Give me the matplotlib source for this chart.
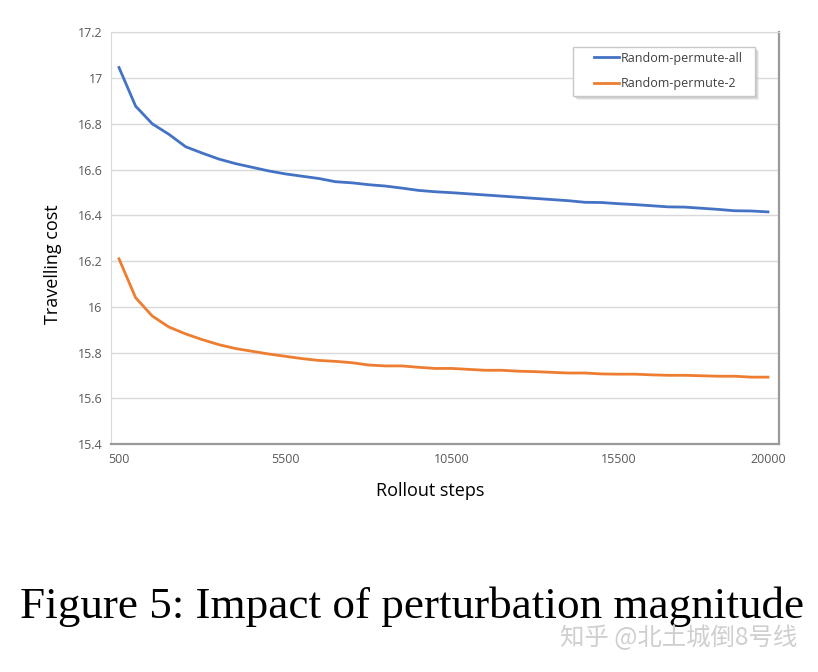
import matplotlib.pyplot as plt
from matplotlib.patches import Rectangle
import numpy as np

# Rollout steps (every 500) and travelling cost
steps = np.arange(500, 20001, 500)
permute_all = [17.046, 16.877, 16.800, 16.754, 16.700, 16.672, 16.646, 16.626, 16.610, 16.594,
               16.581, 16.571, 16.561, 16.547, 16.542, 16.534, 16.528, 16.519, 16.509, 16.503,
               16.499, 16.494, 16.489, 16.484, 16.479, 16.474, 16.469, 16.464, 16.457, 16.456,
               16.451, 16.447, 16.442, 16.437, 16.436, 16.431, 16.426, 16.420, 16.419, 16.415]
permute_2 = [16.210, 16.040, 15.960, 15.912, 15.882, 15.857, 15.835, 15.818, 15.806, 15.794,
             15.784, 15.774, 15.766, 15.762, 15.756, 15.746, 15.742, 15.742, 15.736, 15.731,
             15.731, 15.727, 15.723, 15.723, 15.719, 15.717, 15.714, 15.711, 15.711, 15.707,
             15.706, 15.706, 15.703, 15.701, 15.701, 15.699, 15.697, 15.697, 15.693, 15.693]
xticks = [500, 5500, 10500, 15500, 20000]
yticks = [15.4, 15.6, 15.8, 16.0, 16.2, 16.4, 16.6, 16.8, 17.0, 17.2]
ylabels = ['15.4', '15.6', '15.8', '16', '16.2', '16.4', '16.6', '16.8', '17', '17.2']

fig = plt.figure(figsize=(8.18, 6.72), dpi=100)
ax = fig.add_axes([0.1357, 0.339, 0.8166, 0.613])

ax.plot(steps, permute_all, color='#4472C4', lw=2.0, label='Random-permute-all', zorder=3)
ax.plot(steps, permute_2, color='#ED7D31', lw=2.0, label='Random-permute-2', zorder=3)

ax.set_xlim(260, 20330)
ax.set_ylim(15.4, 17.2)
ax.set_xticks(xticks)
ax.set_xticklabels([str(t) for t in xticks])
ax.set_yticks(yticks)
ax.set_yticklabels(ylabels)
ax.tick_params(length=0, labelsize=9, labelcolor='#595959', pad=6)
for lab in ax.get_xticklabels() + ax.get_yticklabels():
    lab.set_family('Open Sans')
ax.grid(axis='y', color='#d9d9d9', lw=1)
ax.set_axisbelow(True)

for s in ['left', 'top']:
    ax.spines[s].set_color('#d9d9d9')
for s in ['right', 'bottom']:
    ax.spines[s].set_color('#9a9a9a')
    ax.spines[s].set_linewidth(1.6)

ax.set_xlabel('Rollout steps', fontsize=13, family='Open Sans')
ax.xaxis.set_label_coords(0.478, -0.091)
ax.set_ylabel('Travelling cost', fontsize=13, family='Open Sans')
ax.yaxis.set_label_coords(-0.073, 0.437)

# legend box with a soft shadow, drawn by hand (Excel style)
for i, a in enumerate([0.25, 0.35, 0.5]):
    d = 4 - i
    ax.add_patch(Rectangle(((573 + d) / 818, (672 - 96 - d) / 672), 182 / 818, 49 / 672,
                           transform=fig.transFigure, facecolor='#bdbdbd', alpha=a,
                           edgecolor='none', zorder=5, clip_on=False))
ax.add_patch(Rectangle((573 / 818, (672 - 96) / 672), 182 / 818, 49 / 672,
                       transform=fig.transFigure, facecolor='white',
                       edgecolor='#c8c8c8', lw=1, zorder=6, clip_on=False))

leg = ax.legend(loc='upper left', bbox_to_anchor=(0.7193, 0.9313), bbox_transform=fig.transFigure,
                frameon=False, borderaxespad=0, prop={'family': 'Open Sans', 'size': 9},
                handlelength=2.0, handletextpad=0.1, borderpad=0.45, labelspacing=1.0)
leg.set_zorder(7)
for t in leg.get_texts():
    t.set_color('#404040')

fig.text(0.504, 0.097, 'Figure 5: Impact of perturbation magnitude', ha='center', va='center',
         fontsize=32.5, family='Liberation Serif')
fig.text(0.830, 0.0506, '知乎 @北土城倒8号线', ha='center', va='center',
         fontsize=17.6, color='#cfcfcf', family=['Noto Sans CJK SC', 'DejaVu Sans'])

fig.savefig('out.png', dpi=100)
